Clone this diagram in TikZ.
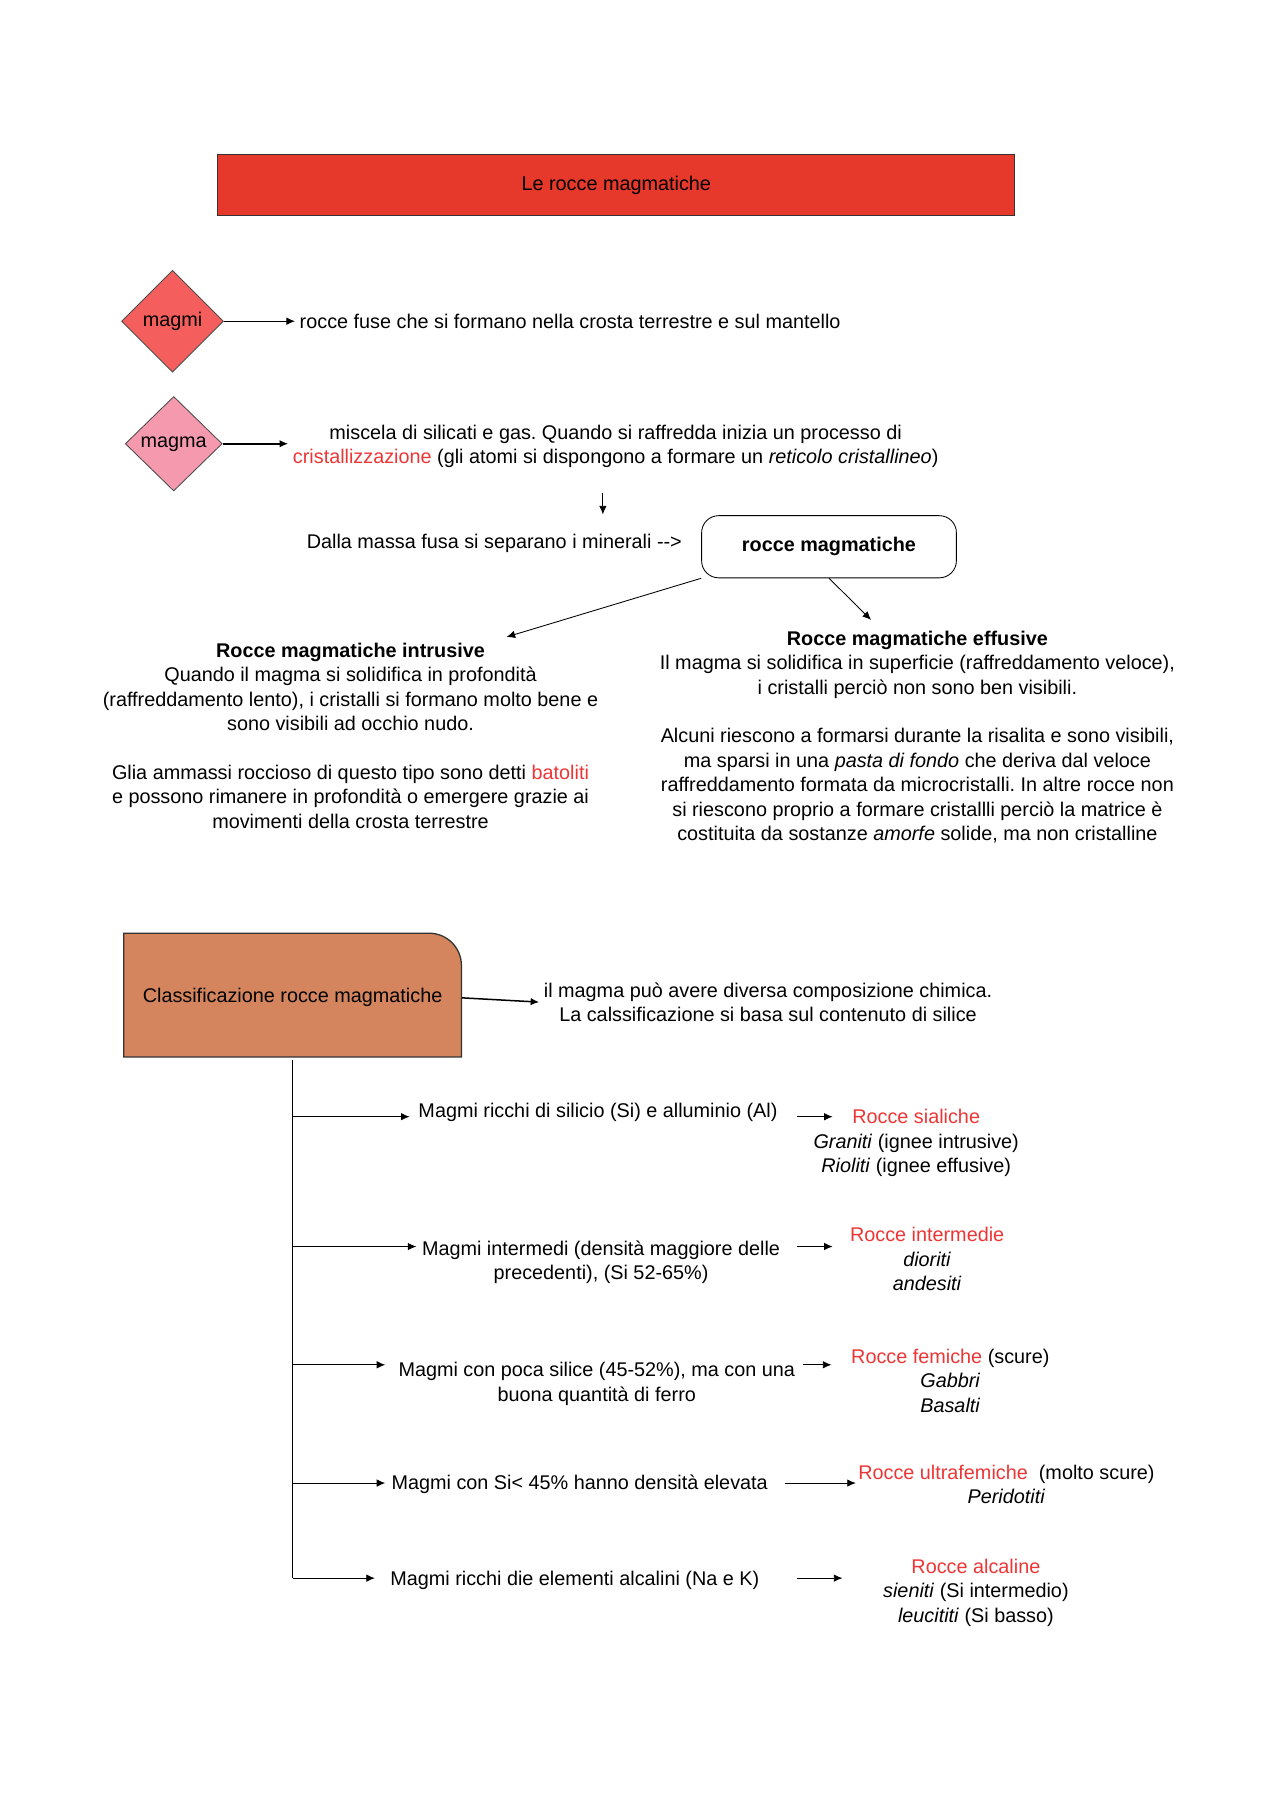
\documentclass[tikz,border=0pt]{standalone}
\usepackage{fontspec}
\setmainfont{Liberation Sans}
\usepackage{tikz}
\usetikzlibrary{shapes.geometric,arrows.meta}
\definecolor{titlered}{HTML}{E7392B}
\definecolor{magmired}{HTML}{F45F5D}
\definecolor{magmapink}{HTML}{F59AAE}
\definecolor{clsorange}{HTML}{D4855D}
\definecolor{redtxt}{HTML}{EE3535}
\newcommand{\rosso}[1]{\textcolor{redtxt}{#1}}
\frenchspacing

\begin{document}
\begin{tikzpicture}[>={Latex[length=4pt,width=3.5pt]},
  every node/.style={font=\fontsize{9.25}{11.4}\selectfont},
  testo/.style={align=center, inner sep=2pt},
  rombo/.style={draw=black!70, diamond, inner sep=0pt}]
\useasboundingbox (0,0) rectangle (21,29.71);
\node [draw=black!80, fill=titlered, minimum width=13.07cm, minimum height=1cm] (titolo) at (10.11,26.67) {Le rocce magmatiche};
\node [rombo, fill=magmired, minimum width=1.67cm, minimum height=1.67cm] (magmi) at (2.83,24.44) {magmi};
\node [testo, anchor=west] (defmagmi) at (4.84,24.44) {rocce fuse che si formano nella crosta terrestre e sul mantello};
\node [rombo, fill=magmapink, minimum width=1.59cm, minimum height=1.55cm] (magma) at (2.85,22.43) {magma};
\node [testo] (defmagma) at (10.10,22.39) {miscela di silicati e gas. Quando si raffredda inizia un processo di\\ \rosso{cristallizzazione} (gli atomi si dispongono a formare un \textit{reticolo cristallineo})};
\path [->] (magmi) edge (defmagmi);
\path [->, line width=0.9pt] (magma.east) edge (magma.east -| defmagma.west);
\coordinate (giu1) at (9.89,21.62);
\coordinate (giu2) at (9.89,21.27);
\path [->] (giu1) edge (giu2);
\node [testo] (dalla) at (8.11,20.79) {Dalla massa fusa si separano i minerali -{}->};
\node [draw, rounded corners=0.28cm, minimum width=4.18cm, minimum height=1.02cm] (rm) at (13.60,20.74) {\bfseries rocce magmatiche};
\coordinate (fineint) at (8.31,19.26);
\coordinate (fineeff) at (14.29,19.54);
\path [->] (rm.south west) edge (fineint);
\path [->] (rm.south) edge (fineeff);
\node [testo] (intrusive) at (5.75,17.64) {\textbf{Rocce magmatiche intrusive}\\ Quando il magma si solidifica in profondità\\ (raffreddamento lento), i cristalli si formano molto bene e\\ sono visibili ad occhio nudo.\\[11.4pt] Glia ammassi roccioso di questo tipo sono detti \rosso{batoliti}\\ e possono rimanere in profondità o emergere grazie ai\\ movimenti della crosta terrestre};
\node [testo] (effusive) at (15.05,17.62) {\textbf{Rocce magmatiche effusive}\\ Il magma si solidifica in superficie (raffreddamento veloce),\\ i cristalli perciò non sono ben visibili.\\[11.4pt] Alcuni riescono a formarsi durante la risalita e sono visibili,\\ ma sparsi in una \textit{pasta di fondo} che deriva dal veloce\\ raffreddamento formata da microcristalli. In altre rocce non\\ si riescono proprio a formare cristallli perciò la matrice è\\ costituita da sostanze \textit{amorfe} solide, ma non cristalline};
% classificazione
\draw [draw=black!80, line width=0.6pt, fill=clsorange] (2.03,12.37) -- (2.03,14.40) -- (7.04,14.40) arc [start angle=90, end angle=0, radius=0.53] -- (7.57,12.37) -- cycle;
\node [minimum width=5.54cm, minimum height=2.03cm] (cls) at (4.80,13.34) {Classificazione rocce magmatiche};
\node [testo] (silice) at (12.60,13.27) {il magma può avere diversa composizione chimica.\\ La calssificazione si basa sul contenuto di silice};
\path [->, line width=0.7pt] (cls.east) edge (silice.west);
\node [testo] (m1) at (9.81,11.46) {Magmi ricchi di silicio (Si) e alluminio (Al)};
\node [testo] (m2) at (9.86,9.00) {Magmi intermedi (densità maggiore delle\\ precedenti), (Si 52-65\%)};
\node [testo] (m3) at (9.79,7.01) {Magmi con poca silice (45-52\%), ma con una\\ buona quantità di ferro};
\node [testo] (m4) at (9.51,5.36) {Magmi con Si< 45\% hanno densità elevata};
\node [testo] (m5) at (9.43,3.78) {Magmi ricchi die elementi alcalini (Na e K)};
\node [testo] (c1) at (15.03,10.96) {\rosso{Rocce sialiche}\\ \textit{Graniti} (ignee intrusive)\\ \textit{Rioliti} (ignee effusive)};
\node [testo] (c2) at (15.21,9.05) {\rosso{Rocce intermedie}\\ \textit{dioriti}\\ \textit{andesiti}};
\node [testo] (c3) at (15.59,7.06) {\rosso{Rocce femiche} (scure)\\ \textit{Gabbri}\\ \textit{Basalti}};
\node [testo] (c4) at (16.51,5.36) {\rosso{Rocce ultrafemiche}\ \ (molto scure)\\ \textit{Peridotiti}};
\node [testo] (c5) at (16.01,3.58) {\rosso{Rocce alcaline}\\ \textit{sieniti} (Si intermedio)\\ \textit{leucititi} (Si basso)};
% tronco e rami
\coordinate (r1) at (4.80,11.39);
\coordinate (r2) at (4.80,9.26);
\coordinate (r3) at (4.80,7.32);
\coordinate (r4) at (4.80,5.38);
\coordinate (r5) at (4.80,3.82);
\coordinate (t1) at (6.72,11.39);
\coordinate (t2) at (6.83,9.26);
\coordinate (t3) at (6.32,7.32);
\coordinate (t4) at (6.32,5.38);
\coordinate (t5) at (6.15,3.82);
\draw (cls.south) -- (r5);
\path [->] (r1) edge (t1);
\path [->] (r2) edge (t2);
\path [->] (r3) edge (t3);
\path [->] (r4) edge (t4);
\path [->] (r5) edge (t5);
\coordinate (s1) at (13.07,11.39);
\coordinate (e1) at (13.66,11.39);
\coordinate (s2) at (13.07,9.26);
\coordinate (e2) at (13.66,9.26);
\coordinate (s3) at (13.18,7.32);
\coordinate (e3) at (13.64,7.32);
\coordinate (s4) at (12.88,5.38);
\coordinate (e4) at (14.04,5.38);
\coordinate (s5) at (13.08,3.82);
\coordinate (e5) at (13.82,3.82);
\path [->] (s1) edge (e1);
\path [->] (s2) edge (e2);
\path [->] (s3) edge (e3);
\path [->] (s4) edge (e4);
\path [->] (s5) edge (e5);
\end{tikzpicture}
\end{document}
